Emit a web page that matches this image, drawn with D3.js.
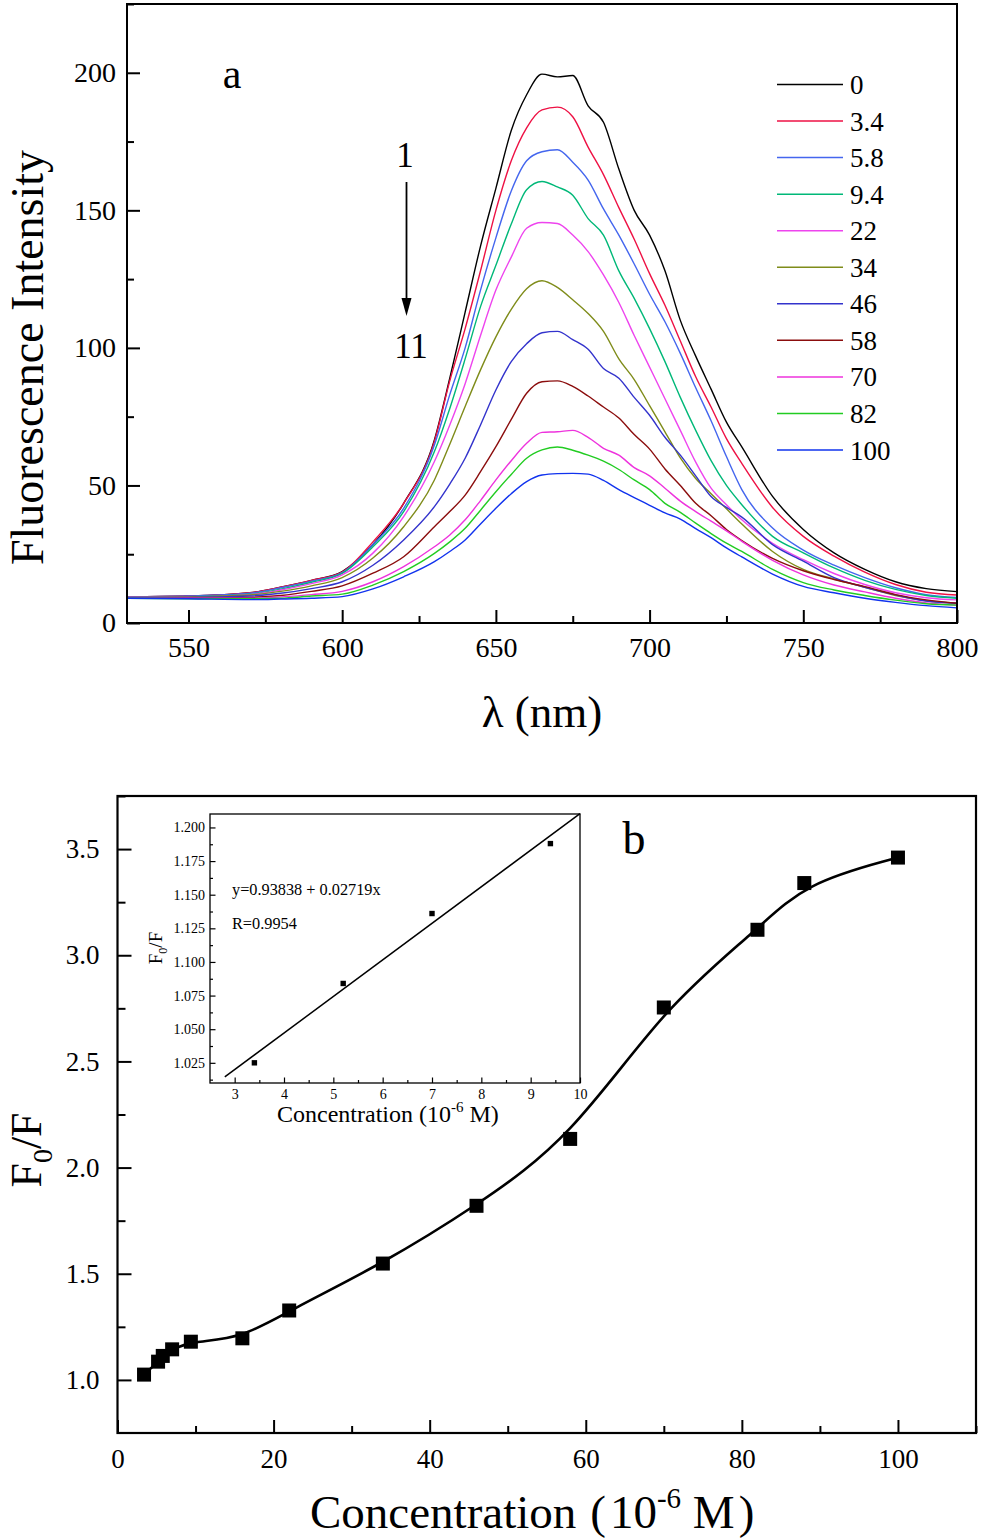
<!DOCTYPE html>
<html><head><meta charset="utf-8">
<script src="https://cdn.jsdelivr.net/npm/d3@7"></script>
<style>
html,body{margin:0;padding:0;background:#fff;}
svg{display:block;}
svg text{font-family:"Liberation Serif","Times New Roman",serif !important;fill:#000;}
</style>
</head><body>
<svg id="c" width="981" height="1539"></svg>
<script>
// ---------------- Panel a data ----------------
const wavelengths = [530,550,570,580,590,600,610,620,630,635,640,645,650,655,660,665,670,675,680,685,690,695,700,705,710,715,720,725,730,740,750,760,770,780,790,800];
const concLabels = ["0","3.4","5.8","9.4","22","34","46","58","70","82","100"];
const colors = ["#000000","#ee1144","#4466ee","#00b878","#ee44ee","#7f8c1a","#3333cc","#8b0d0d","#ee33dd","#22cc22","#1133ee"];
const I_0   = [9.5,9.8,11,13,15.5,18.7,28.5,43.5,66.5,89,113,137,158,179,192,199.5,198.5,199,188,182,165,150,141,128,110,97,85,73,64,46,34,25.5,19.5,15,12.5,11.4];
const I_3_4 = [9.5,9.8,11,13,15.5,18.5,29.5,43.5,66,88,107,128,150,168,180,186.5,187.5,184,173,163,151,139.5,127,115.5,102.5,89.5,78.5,67,58,42,31.5,24.3,18.5,14,11.2,10.2];
const I_5_8 = [9.5,9.8,10.8,12.8,15.2,18.3,28.5,41.7,64.7,83,100,121,140,157,168,171.3,172,167.5,161,150.5,141,130.5,119.5,109.5,98,85.5,73.5,60.5,48.5,34.5,26.5,21,16.5,12.8,10.3,9.3];
const I_9_4 = [9.5,9.6,10.5,12.3,14.8,18,27.7,40.5,62.3,78,96,115,130,145,157.5,160.5,158.5,155.5,147,141,128,118,107,95,82,70,59,50,43,31.5,25.5,20,15.5,12.2,10,9];
const I_22  = [9.5,9.5,10.3,12,14.3,17.5,25.4,38.7,58.7,72,87,104.5,121,133,143.5,145.6,145.2,141,135,126.5,116.5,104.5,93,81.5,70,58.5,49,43,37.5,29,23,18,14,11,9.2,8.4];
const I_34  = [9.3,9.5,10.2,11.5,13.5,16.5,23.6,35,52,65,78.7,92,104,114,121.5,124.4,122,117.5,112.5,106,96,88.5,79,69.5,60,52.5,47,41.5,36,26,19.5,16,13,10,8.1,7.2];
const I_46  = [9.3,9.3,9.8,10.8,12.5,15,21,30.2,42.3,50.5,59.9,72,84.7,95,101.5,105.5,106,103,99.5,92.5,89,82,75.5,67.5,61,53.5,46,42,38.5,28.5,22.5,16.5,13,10.2,8,7.2];
const I_58  = [9,9,9.3,10,11.5,13.5,18.1,24.1,35,40.5,46.5,55,64.1,74,83.5,87.7,88,86,82.5,78.5,74.5,68.5,63.2,56,50,43.5,39,34,30,23.5,19,15.8,13.2,10.3,8.4,7.2];
const I_70  = [9,9,9,9.5,10.3,11.5,15,20.5,27.7,32,37.5,44.5,52,59,65.3,69.3,69.5,70,67.5,63.5,61,56.5,53.5,49,44.3,40.5,37,33.5,29.7,22.8,17.5,13.8,11.3,9,7.3,6.5];
const I_82  = [9,8.8,8.8,9,9.8,10.5,13.8,18.7,25.3,29.5,34.4,41,47.7,54,59.9,62.9,64,62.8,61,58.8,55.8,52,48.5,43.5,40.2,36.3,32.5,29,26,19.5,14.7,12,10,8.3,7,6.5];
const I_100 = [9,8.8,8.5,8.7,9,9.6,12.4,16.8,22.3,26,30.2,36,41.7,47,51.4,53.8,54.3,54.4,54.1,51.8,48.5,45.6,42.8,40,37.8,34.3,31,27.3,24,17.8,13.3,11,9,7.5,6.3,5.5];
const spectra = [I_0,I_3_4,I_5_8,I_9_4,I_22,I_34,I_46,I_58,I_70,I_82,I_100];
const xTicksA = [550,600,650,700,750,800];
const xMinorA = [575,625,675,725,775];
const yTicksA = [0,50,100,150,200];
const yMinorA = [25,75,125,175,225];

// ---------------- Panel b data ----------------
const concB  = [3.4,5.2,5.8,7.0,9.4,16,22,34,46,58,70,82,88,100];
const ratioB = [1.025,1.086,1.113,1.144,1.18,1.196,1.327,1.548,1.82,2.135,2.754,3.12,3.34,3.46];
const xTicksB = [0,20,40,60,80,100];
const xMinorB = [10,30,50,70,90,110];
const yTicksB = [1.0,1.5,2.0,2.5,3.0,3.5];
const yMinorB = [1.25,1.75,2.25,2.75,3.25,3.75];

// ---------------- Inset data ----------------
const concIn  = [3.4,5.2,7.0,9.4];
const ratioIn = [1.025,1.084,1.136,1.188];
const fitIntercept = 0.93838, fitSlope = 0.02719;
const fitRange = [2.8,10];
const xTicksIn = [3,4,5,6,7,8,9,10];
const xMinorIn = [3.5,4.5,5.5,6.5,7.5,8.5,9.5];
const yTicksIn = [1.025,1.050,1.075,1.100,1.125,1.150,1.175,1.200];
const yMinorIn = [1.0125,1.0375,1.0625,1.0875,1.1125,1.1375,1.1625,1.1875];

const FONT = '"Liberation Serif","Times New Roman",serif';
const svg = d3.select("#c");

function styleAxis(g, fs, sw){
  g.select(".domain").remove();
  g.attr("font-family", FONT).attr("font-size", fs);
  g.selectAll(".tick line").attr("stroke","#000").attr("stroke-width",sw);
  g.selectAll(".tick text").attr("fill","#000").style("font-family",FONT).style("font-size",fs+"px");
}

// ================= Panel a =================
const xA = d3.scaleLinear().domain([530,800]).range([127,957]);
const yA = d3.scaleLinear().domain([0,225]).range([623,4]);
const gA = svg.append("g");

const lineA = d3.line().x((d,i)=>xA(wavelengths[i])).y(d=>yA(d)).curve(d3.curveMonotoneX);
spectra.forEach((s,k)=>{
  gA.append("path").attr("d",lineA(s)).attr("fill","none").attr("stroke",colors[k]).attr("stroke-width",1.4);
});

gA.append("g").attr("transform","translate(0,623)")
  .call(d3.axisBottom(xA).tickValues(xMinorA).tickSize(-7).tickSizeOuter(0).tickFormat(""))
  .call(g=>styleAxis(g,28,2));
gA.append("g").attr("transform","translate(0,623)")
  .call(d3.axisBottom(xA).tickValues(xTicksA).tickSize(-13).tickSizeOuter(0).tickPadding(14).tickFormat(d3.format("d")))
  .call(g=>styleAxis(g,28,2));
gA.append("g").attr("transform","translate(127,0)")
  .call(d3.axisLeft(yA).tickValues(yMinorA).tickSize(-7).tickSizeOuter(0).tickFormat(""))
  .call(g=>styleAxis(g,28,2));
gA.append("g").attr("transform","translate(127,0)")
  .call(d3.axisLeft(yA).tickValues(yTicksA).tickSize(-13).tickSizeOuter(0).tickPadding(11).tickFormat(d3.format("d")))
  .call(g=>styleAxis(g,28,2));

gA.append("rect").attr("x",xA(530)).attr("y",yA(225)).attr("width",xA(800)-xA(530)).attr("height",yA(0)-yA(225))
  .attr("fill","none").attr("stroke","#000").attr("stroke-width",2);

gA.append("text").attr("transform","translate(43,357.5) rotate(-90)").attr("text-anchor","middle")
  .attr("font-size",46).text("Fluorescence Intensity");
gA.append("text").attr("x",542).attr("y",727).attr("text-anchor","middle").attr("font-size",45).text("λ (nm)");
gA.append("text").attr("x",232).attr("y",88).attr("text-anchor","middle").attr("font-size",42).text("a");

// arrow 1 -> 11
gA.append("text").attr("x",405).attr("y",167).attr("text-anchor","middle").attr("font-size",35).text("1");
gA.append("line").attr("x1",406.5).attr("x2",406.5).attr("y1",182).attr("y2",302).attr("stroke","#000").attr("stroke-width",1.8);
gA.append("path").attr("d","M401.5,298 L411.5,298 L406.5,316 Z").attr("fill","#000");
gA.append("text").attr("x",411).attr("y",358).attr("text-anchor","middle").attr("font-size",35).text("11");

// legend
const legY0 = 84.5, legDy = 36.55;
concLabels.forEach((lab,k)=>{
  const yy = legY0 + k*legDy;
  gA.append("line").attr("x1",777).attr("x2",843).attr("y1",yy).attr("y2",yy).attr("stroke",colors[k]).attr("stroke-width",1.5);
  gA.append("text").attr("x",850).attr("y",yy+9.5).attr("font-size",27).text(lab);
});

// ================= Panel b =================
const xB = d3.scaleLinear().domain([0,110]).range([117.5,976]);
const yB = d3.scaleLinear().domain([0.75,3.75]).range([1433,796]);
const gB = svg.append("g");

gB.append("g").attr("transform","translate(0,1433)")
  .call(d3.axisBottom(xB).tickValues(xMinorB).tickSize(-7).tickSizeOuter(0).tickFormat(""))
  .call(g=>styleAxis(g,27,2));
gB.append("g").attr("transform","translate(0,1433)")
  .call(d3.axisBottom(xB).tickValues(xTicksB).tickSize(-13).tickSizeOuter(0).tickPadding(16).tickFormat(d3.format("d")))
  .call(g=>styleAxis(g,27,2));
gB.append("g").attr("transform","translate(117.5,0)")
  .call(d3.axisLeft(yB).tickValues(yMinorB).tickSize(-8).tickSizeOuter(0).tickFormat(""))
  .call(g=>styleAxis(g,27,2));
gB.append("g").attr("transform","translate(117.5,0)")
  .call(d3.axisLeft(yB).tickValues(yTicksB).tickSize(-14).tickSizeOuter(0).tickPadding(18).tickFormat(d3.format(".1f")))
  .call(g=>styleAxis(g,27,2));

gB.append("rect").attr("x",xB(0)).attr("y",yB(3.75)).attr("width",xB(110)-xB(0)).attr("height",yB(0.75)-yB(3.75))
  .attr("fill","none").attr("stroke","#000").attr("stroke-width",2.2);

const lineB = d3.line().x((d,i)=>xB(concB[i])).y(d=>yB(d)).curve(d3.curveBasis);
gB.append("path").attr("d",lineB(ratioB)).attr("fill","none").attr("stroke","#000").attr("stroke-width",2.6);
gB.selectAll("rect.pt").data(ratioB).enter().append("rect").attr("class","pt")
  .attr("x",(d,i)=>xB(concB[i])-7).attr("y",d=>yB(d)-7).attr("width",14).attr("height",14).attr("fill","#000");

// axis titles
const tB = gB.append("text").attr("x",310).attr("y",1528).attr("font-size",47);
tB.append("tspan").text("Concentration");
tB.append("tspan").attr("dx",14).text("(");
tB.append("tspan").attr("dx",4).text("10");
tB.append("tspan").attr("dy",-20).attr("font-size",29).text("-6");
tB.append("tspan").attr("dy",20).text(" M");
tB.append("tspan").attr("dx",4).text(")");

const yTB = gB.append("text").attr("transform","translate(41,1150) rotate(-90)").attr("text-anchor","middle").attr("font-size",44);
yTB.append("tspan").text("F");
yTB.append("tspan").attr("dy",11).attr("font-size",28).text("0");
yTB.append("tspan").attr("dy",-11).text("/F");

gB.append("text").attr("x",634).attr("y",854).attr("text-anchor","middle").attr("font-size",46).text("b");

// ================= Inset =================
const xI = d3.scaleLinear().domain([2.5,10]).range([210,580]);
const yI = d3.scaleLinear().domain([1.01,1.21]).range([1083,814]);
const gI = svg.append("g");

gI.append("g").attr("transform","translate(0,1083)")
  .call(d3.axisBottom(xI).tickValues(xMinorIn).tickSize(-3).tickSizeOuter(0).tickFormat(""))
  .call(g=>styleAxis(g,14,1.2));
gI.append("g").attr("transform","translate(0,1083)")
  .call(d3.axisBottom(xI).tickValues(xTicksIn).tickSize(-5.5).tickSizeOuter(0).tickPadding(6).tickFormat(d3.format("d")))
  .call(g=>styleAxis(g,14,1.2));
gI.append("g").attr("transform","translate(210,0)")
  .call(d3.axisLeft(yI).tickValues(yMinorIn).tickSize(-3).tickSizeOuter(0).tickFormat(""))
  .call(g=>styleAxis(g,14,1.2));
gI.append("g").attr("transform","translate(210,0)")
  .call(d3.axisLeft(yI).tickValues(yTicksIn).tickSize(-5.5).tickSizeOuter(0).tickPadding(5).tickFormat(d3.format(".3f")))
  .call(g=>styleAxis(g,14,1.2));

gI.append("rect").attr("x",xI(2.5)).attr("y",yI(1.21)).attr("width",xI(10)-xI(2.5)).attr("height",yI(1.01)-yI(1.21))
  .attr("fill","none").attr("stroke","#000").attr("stroke-width",1.3);

const fitLine = d3.line().x(d=>xI(d)).y(d=>yI(fitIntercept + fitSlope*d));
gI.append("path").attr("d",fitLine(fitRange)).attr("fill","none").attr("stroke","#000").attr("stroke-width",1.5);
gI.selectAll("rect.ip").data(ratioIn).enter().append("rect").attr("class","ip")
  .attr("x",(d,i)=>xI(concIn[i])-2.7).attr("y",d=>yI(d)-2.7).attr("width",5.4).attr("height",5.4).attr("fill","#000");

gI.append("text").attr("x",232).attr("y",895).attr("font-size",16.3).text("y=0.93838 + 0.02719x");
gI.append("text").attr("x",232).attr("y",928.5).attr("font-size",16.3).text("R=0.9954");

const tI = gI.append("text").attr("x",277).attr("y",1122).attr("font-size",24);
tI.append("tspan").text("Concentration (10");
tI.append("tspan").attr("dy",-10).attr("font-size",15).text("-6");
tI.append("tspan").attr("dy",10).text(" M)");

const yTI = gI.append("text").attr("transform","translate(162,948) rotate(-90)").attr("text-anchor","middle").attr("font-size",19);
yTI.append("tspan").text("F");
yTI.append("tspan").attr("dy",5).attr("font-size",12).text("0");
yTI.append("tspan").attr("dy",-5).text("/F");

// make sure every text uses the serif face
svg.selectAll("text").style("font-family",FONT);
</script>
</body></html>
